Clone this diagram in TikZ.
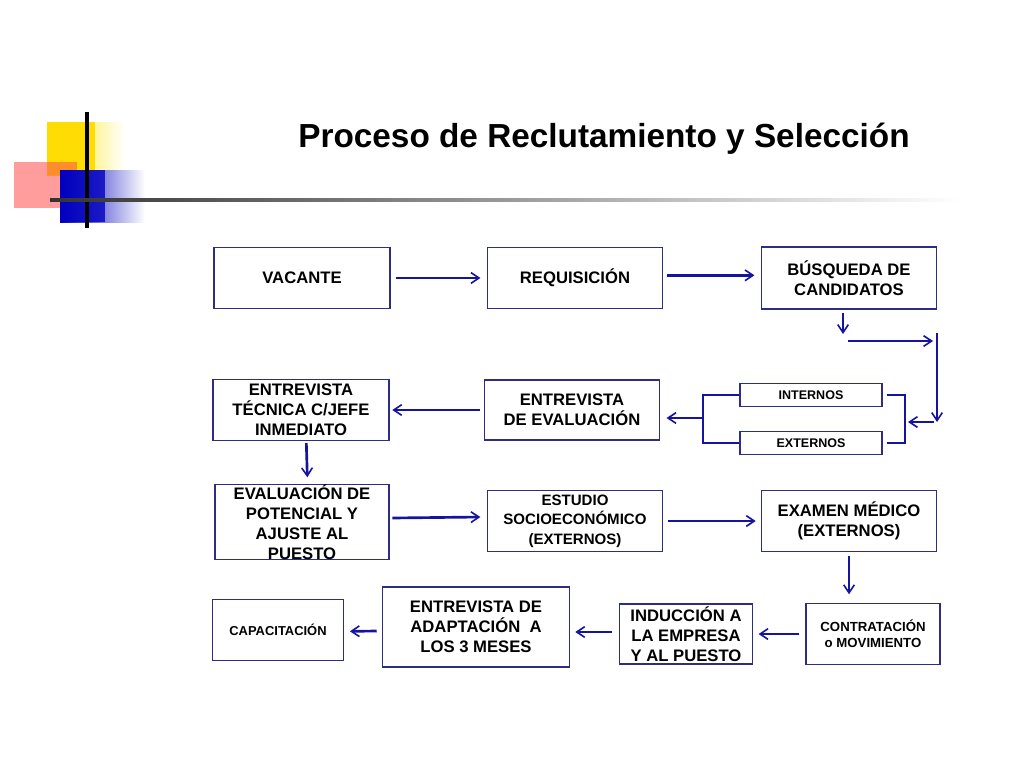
\documentclass[tikz,border=0pt]{standalone}
\usepackage{fontspec}
\setmainfont{Liberation Sans}
\usetikzlibrary{arrows.meta}
\definecolor{boxline}{RGB}{45,45,130}
\definecolor{flowblue}{RGB}{20,20,160}
\tikzset{
    box/.style={draw=boxline, line width=0.9pt, fill=white, align=center, font=\bfseries\fontsize{12.5}{15}\selectfont, inner sep=0pt},
    smallbox/.style={box, font=\bfseries\fontsize{9.4}{11}\selectfont},
    flow/.style={draw=flowblue, line width=2pt, -{Straight Barb[length=6pt,width=8pt,line width=1.2pt]}},
    link/.style={draw=flowblue, line width=2pt}
}
\begin{document}
\begin{tikzpicture}[x=0.75pt,y=-0.75pt]
    \useasboundingbox (0,0) rectangle (1024,768);
    % logo
    \shade[left color=yellow!80!orange, right color=white] (47,122) rectangle (125,175);
    \fill[yellow!80!orange] (47,122) rectangle (95,175);
    \fill[red!70, opacity=0.55] (14,162) rectangle (77,208);
    \shade[left color=blue!75!black, right color=white] (60,170) rectangle (145,222);
    \fill[blue!75!black, opacity=0.8] (60,170) rectangle (105,222);
    \draw[black, line width=2.4pt] (87,112) -- (87,228);
    \shade[left color=black!80, right color=white] (50,198.5) rectangle (960,201.5);
    \node[font=\bfseries\fontsize{25}{30}\selectfont] (title) at (604,139) {Proceso de Reclutamiento y Selección};
    % row 1
    \node[box, minimum width=132pt, minimum height=45.75pt] (vacante) at (302,278) {VACANTE};
    \node[box, minimum width=131pt, minimum height=45.75pt] (requisicion) at (575,278) {REQUISICIÓN};
    \node[box, minimum width=131pt, minimum height=46.5pt] (busqueda) at (849,278) {BÚSQUEDA DE\\CANDIDATOS};
    % row 2
    \node[box, minimum width=132pt, minimum height=45.75pt] (tecnica) at (301,410) {ENTREVISTA\\TÉCNICA C/JEFE\\INMEDIATO};
    \node[box, minimum width=131pt, minimum height=45pt] (evaluacion) at (572,410) {ENTREVISTA\\DE EVALUACIÓN};
    \node[smallbox, minimum width=106.5pt, minimum height=17.25pt] (internos) at (811,395) {INTERNOS};
    \node[smallbox, minimum width=106.5pt, minimum height=17.25pt] (externos) at (811,443) {EXTERNOS};
    % row 3
    \node[box, minimum width=130.5pt, minimum height=45.75pt] (potencial) at (302,522) {EVALUACIÓN DE\\POTENCIAL Y\\AJUSTE AL\\PUESTO};
    \node[box, font=\bfseries\fontsize{11.3}{14.5}\selectfont, minimum width=131pt, minimum height=45.75pt] (estudio) at (575,521) {ESTUDIO\\SOCIOECONÓMICO\\(EXTERNOS)};
    \node[box, minimum width=131pt, minimum height=45.75pt] (examen) at (849,521) {EXAMEN MÉDICO\\(EXTERNOS)};
    % row 4
    \node[smallbox, font=\bfseries\fontsize{9.7}{11}\selectfont, minimum width=98pt, minimum height=45.75pt] (capacitacion) at (278,630) {CAPACITACIÓN};
    \node[box, minimum width=140pt, minimum height=60pt] (adaptacion) at (476,627) {ENTREVISTA DE\\ADAPTACIÓN\ \ A\\LOS 3 MESES};
    \node[box, minimum width=100pt, minimum height=45pt] (induccion) at (686,634) {INDUCCIÓN A\\LA EMPRESA\\Y AL PUESTO};
    \node[smallbox, font=\bfseries\fontsize{9.9}{12}\selectfont, minimum width=100.5pt, minimum height=45.75pt] (contratacion) at (873,634) {CONTRATACIÓN\\o MOVIMIENTO};
    % route via internos / externos
    \coordinate (b1) at (843,313);
    \coordinate (b2) at (843,334);
    \coordinate (b3) at (848,341);
    \coordinate (b4) at (933,341);
    \coordinate (b5) at (937,333);
    \coordinate (b6) at (937,422);
    \coordinate (b7) at (934,422);
    \coordinate (b8) at (908,422);
    \coordinate (left) at (703,418);
    % connectors
    \draw[flow] ([xshift=4pt]vacante.east) -- ([xshift=-5pt]requisicion.west);
    \draw[flow] ([xshift=3pt,yshift=2pt]requisicion.east) -- ([xshift=-5pt,yshift=2pt]busqueda.west);
    \draw[flow] (b1) -- (b2);
    \draw[flow] (b3) -- (b4);
    \draw[flow] (b5) -- (b6);
    \draw[flow] (b7) -- (b8);
    \draw[link] ([xshift=3pt]internos.east) -| (905,443) -- ([xshift=3pt]externos.east);
    \draw[link] (internos.west) -| (703,443) -- (externos.west);
    \draw[flow] (left) -- ([xshift=5pt]evaluacion.east |- left);
    \draw[flow] ([xshift=-3pt]evaluacion.west) -- ([xshift=2pt]tecnica.east);
    \draw[flow] ([xshift=4pt,yshift=-1.5pt]tecnica.south) -- ([xshift=4pt,yshift=5pt]potencial.north);
    \draw[flow] ([xshift=2pt,yshift=3pt]potencial.east) -- ([xshift=-5pt,yshift=3pt]estudio.west);
    \draw[flow] ([xshift=4pt]estudio.east) -- ([xshift=-4pt]examen.west);
    \draw[flow] ([yshift=-3pt]examen.south) -- ([yshift=6.5pt]examen.south |- contratacion.north);
    \draw[flow] ([xshift=-4.5pt]contratacion.west) -- ([xshift=4pt]induccion.east);
    \draw[flow] ([xshift=-5pt,yshift=1.5pt]induccion.west) -- ([xshift=4pt]adaptacion.east |- 0,632);
    \draw[flow] ([xshift=-4pt,yshift=-3pt]adaptacion.west) -- ([xshift=4.5pt,yshift=-1pt]capacitacion.east);
\end{tikzpicture}
\end{document}
